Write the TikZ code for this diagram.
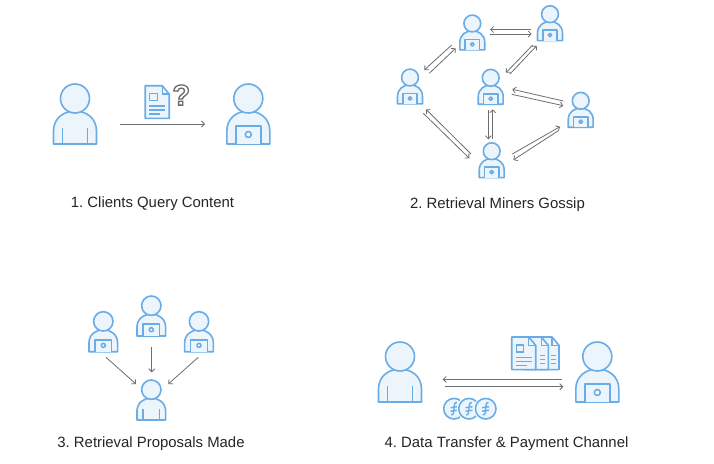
\documentclass[tikz,border=0pt]{standalone}
\usepackage{fontspec}
\setmainfont{Liberation Sans}
\frenchspacing
\usetikzlibrary{arrows.meta}
\definecolor{iconblue}{HTML}{6AACE6}
\definecolor{iconfill}{HTML}{EDF5FC}
\definecolor{arrowgray}{HTML}{6E6E6E}
\newcommand{\torsoshape}{%
    \path[icon] (-21.5,30) -- (-21.5,17) .. controls (-21.5,4) and (-11,-3) .. (0,-3)
      .. controls (11,-3) and (21.5,4) .. (21.5,17) -- (21.5,30) -- cycle;
    \path[icon] (0,-15.5) circle[radius=14.5];
}
\newcommand{\docshape}{%
    \path[icon] (-12,-16.3) -- (5,-16.3) -- (12,-8) -- (12,16.3) -- (-12,16.3) -- cycle;
    \draw[iconline] (5,-16.3) -- (5,-8) -- (12,-8);
}
\tikzset{
  x=1pt,y=-1pt,
  icon/.style={draw=iconblue,line width=1.6pt,fill=iconfill,line join=round},
  iconline/.style={draw=iconblue,line width=1.4pt},
  personbox/.style={inner sep=0pt,outer sep=0pt,minimum width=43pt,minimum height=60pt},
  conn/.style={draw=arrowgray,line width=.8pt,-{Straight Barb[length=3pt,width=6pt]}},
  caption/.style={font=\fontsize{14.9pt}{16pt}\selectfont,text=black!85,inner sep=0pt},
  clientpic/.pic={
    \torsoshape
    \draw[iconline] (-12.5,14) -- (-12.5,30) (12.5,14) -- (12.5,30);
  },
  minerpic/.pic={
    \torsoshape
    \path[icon,fill=iconfill] (-12.5,30) -- (-12.5,12) -- (12.5,12) -- (12.5,30);
    \path[icon,fill=white] (0,20.5) circle[radius=3];
  },
  docfrontpic/.pic={
    \docshape
    \draw[iconline] (-7.5,-8.5) rectangle (0,-1.5);
    \draw[iconline] (-8,4) -- (8,4) (-8,8) -- (8,8) (-8,12) -- (3,12);
  },
  docbackpic/.pic={
    \docshape
    \draw[iconline] (4,2) -- (9,2) (4,6) -- (9,6) (4,10) -- (9,10);
  },
  coinpic/.pic={
    \fill[white] (0,0) circle[radius=12.2];
    \path[icon] (0,0) circle[radius=10.3];
    \draw[iconline] (3,-6) .. controls (.5,-7) and (.3,-4) .. (0,0) .. controls (-.3,4) and (-.7,7) .. (-3,6);
    \draw[iconline] (-3.5,-1) -- (3.5,-2) (-3.5,2.5) -- (3.5,1.5);
  },
}
\newcommand{\person}[5]{% name, x, y, scale, kind
  \node[personbox,minimum width=#4*43pt,minimum height=#4*60pt] (#1) at (#2,#3) {};
  \pic[scale=#4] at (#1) {#5};
}
\newcommand{\link}[4]{% from node, offset, to node, offset
  \draw[conn] ([shift={(#2)}]#1.center) -- ([shift={(#4)}]#3.center);
}
\begin{document}
\begin{tikzpicture}
\path[fill=white,use as bounding box] (0,0) rectangle (714,463);
% panel 1
\person{cone}{75}{114}{1}{clientpic}
\person{mone}{248.3}{114}{1}{minerpic}
\link{cone}{45,10}{mone}{-43.3,10}
\pic at (157.2,102) {docfrontpic};
\node[inner sep=0pt,font=\fontsize{29pt}{29pt}\selectfont\bfseries] (qmark) at (181.3,95)
  {\special{pdf:code 1 Tr 1.3 w 0.42 G}?\special{pdf:code 0 Tr}};
\node[caption] (capone) at (152.5,203.5) {1. Clients Query Content};
% panel 2
\person{A}{472.3}{32.5}{.58}{minerpic}
\person{B}{550}{23.2}{.58}{minerpic}
\person{C}{410}{86.5}{.58}{minerpic}
\person{D}{490.7}{86.8}{.58}{minerpic}
\person{E}{580.7}{109.8}{.58}{minerpic}
\person{F}{491.7}{160.2}{.58}{minerpic}
\link{B}{-19,6.3}{A}{17.7,-3}
\link{A}{17.7,1.5}{B}{-18.3,10.8}
\link{C}{19.3,-13.2}{A}{-16.6,15.8}
\link{A}{-20.6,12.5}{C}{14.3,-16.5}
\link{D}{19.3,-12.8}{B}{-13.3,22.5}
\link{B}{-17.3,21.8}{D}{15.3,-14.1}
\link{E}{-17.4,-8.8}{D}{21.6,2.5}
\link{D}{21,7.5}{E}{-17.4,-4.1}
\link{D}{-2.4,23.2}{F}{-3.4,-20.9}
\link{F}{1,-20.9}{D}{2,22.5}
\link{F}{-20.7,-6.2}{C}{16,22.8}
\link{C}{13.3,26.8}{F}{-22.4,-1.9}
\link{F}{20.6,-6.2}{E}{-20.7,16.9}
\link{E}{-22.4,20.9}{F}{21.6,-0.2}
\node[caption] (captwo) at (497.5,204.5) {2. Retrieval Miners Gossip};
% panel 3
\person{P}{103.3}{331.7}{.667}{minerpic}
\person{Q}{151.3}{316}{.667}{minerpic}
\person{R}{199}{331.7}{.667}{minerpic}
\person{S}{151.3}{400}{.667}{clientpic}
\link{P}{2.7,25.6}{S}{-15.3,-16}
\link{Q}{.4,30.7}{S}{.4,-27.7}
\link{R}{-.7,25.6}{S}{17,-16}
\node[caption] (capthree) at (151,443.5) {3. Retrieval Proposals Made};
% panel 4
\person{U}{400}{372}{1}{clientpic}
\person{V}{597.3}{372}{1}{minerpic}
\link{V}{-35.6,7.3}{U}{42.7,7.3}
\link{U}{45.3,14.7}{V}{-34,14.7}
\pic at (547,353.3) {docbackpic};
\pic at (536.3,353.3) {docbackpic};
\pic at (523.7,353.3) {docfrontpic};
\pic at (454,408.7) {coinpic};
\pic at (469,408.7) {coinpic};
\pic at (485.7,408.7) {coinpic};
\node[caption] (capfour) at (506.5,443.5) {4. Data Transfer \& Payment Channel};
\end{tikzpicture}
\end{document}
